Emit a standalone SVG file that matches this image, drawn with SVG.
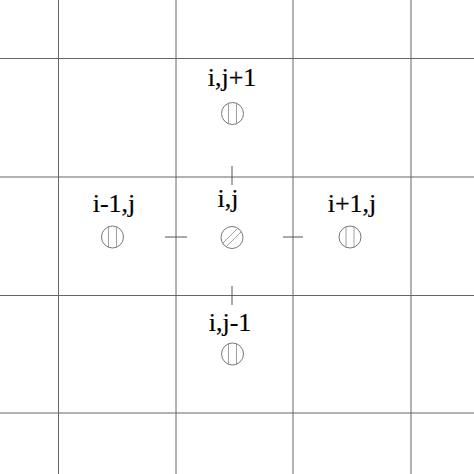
<svg xmlns="http://www.w3.org/2000/svg" width="474" height="474" viewBox="0 0 474 474">
<style>
.grid{stroke:#666;stroke-width:1;fill:none}
.tick{stroke:#555;stroke-width:1}
.cell circle{fill:none;stroke:#777;stroke-width:1}
.cell line{stroke:#888;stroke-width:0.8}
text{font-family:"Liberation Serif","Times New Roman",serif;font-size:26px;fill:#000;stroke:#000;stroke-width:0.2;text-anchor:middle}
</style>
<rect width="474" height="474" fill="#fff"/>
<g id="grid" class="grid">
<line x1="58.5" y1="0" x2="58.5" y2="474"/>
<line x1="176" y1="0" x2="176" y2="474"/>
<line x1="293" y1="0" x2="293" y2="474"/>
<line x1="411" y1="0" x2="411" y2="474"/>
<line x1="0" y1="58.5" x2="474" y2="58.5"/>
<line x1="0" y1="177" x2="474" y2="177"/>
<line x1="0" y1="295.5" x2="474" y2="295.5"/>
<line x1="0" y1="413" x2="474" y2="413"/>
</g>
<g id="connectors" class="tick">
<line x1="232" y1="166" x2="232" y2="185"/>
<line x1="232" y1="286" x2="232" y2="305"/>
<line x1="165" y1="237" x2="187" y2="237"/>
<line x1="283" y1="237" x2="303" y2="237"/>
</g>
<g id="node-top" class="cell">
<text x="232" y="86">i,j+1</text>
<circle cx="232.5" cy="113.5" r="11"/>
<line x1="228.5" y1="103.2" x2="228.5" y2="123.8"/>
<line x1="236.5" y1="103.2" x2="236.5" y2="123.8"/>
</g>
<g id="node-left" class="cell">
<text x="114" y="212">i-1,j</text>
<circle cx="112.5" cy="237" r="11"/>
<line x1="108.5" y1="226.7" x2="108.5" y2="247.3"/>
<line x1="116.5" y1="226.7" x2="116.5" y2="247.3"/>
</g>
<g id="node-center" class="cell">
<text x="228" y="207">i,j</text>
<circle cx="232" cy="237.5" r="11"/>
<line x1="237.8" y1="228.2" x2="222.7" y2="243.3"/>
<line x1="241.3" y1="231.7" x2="226.2" y2="246.8"/>
</g>
<g id="node-right" class="cell">
<text x="352" y="212">i+1,j</text>
<circle cx="350" cy="237" r="11"/>
<line x1="346" y1="226.7" x2="346" y2="247.3"/>
<line x1="354" y1="226.7" x2="354" y2="247.3"/>
</g>
<g id="node-bottom" class="cell">
<text x="230" y="331">i,j-1</text>
<circle cx="232.5" cy="354" r="11"/>
<line x1="228.5" y1="343.7" x2="228.5" y2="364.3"/>
<line x1="236.5" y1="343.7" x2="236.5" y2="364.3"/>
</g>
</svg>
